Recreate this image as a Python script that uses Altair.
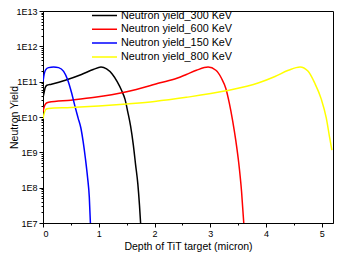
import altair as alt
import pandas as pd

# ---- data ----
series_names = ["Neutron yield_300 KeV", "Neutron yield_600 KeV",
                "Neutron yield_150 KeV", "Neutron yield_800 KeV"]
series_colors = ["#000000", "#FF0000", "#0000FF", "#FFFF00"]

x_300 = [0, 0.02, 0.04, 0.07, 0.15, 0.4, 0.69, 0.9, 1.04, 1.14, 1.24, 1.33, 1.41,
         1.47, 1.52, 1.57, 1.62, 1.66, 1.7, 1.73, 1.75]
y_300 = [3.5e10, 5.0e10, 6.8e10, 7.9e10, 8.5e10, 1.1e11, 1.6e11, 2.2e11, 2.6e11,
         2.3e11, 1.65e11, 1.0e11, 5.6e10, 3.2e10, 1.4e10, 5.6e9, 1.6e9, 4.5e8,
         1.3e8, 3.2e7, 1.0e7]

x_600 = [0, 0.02, 0.05, 0.1, 0.5, 0.93, 1.5, 2.1, 2.4, 2.57, 2.75, 2.96, 3.1, 3.2,
         3.28, 3.34, 3.4, 3.46, 3.51, 3.56, 3.6]
y_600 = [1.4e10, 1.9e10, 2.4e10, 2.6e10, 3.0e10, 3.6e10, 5.2e10, 9.3e10, 1.25e11,
         1.6e11, 2.1e11, 2.6e11, 2.1e11, 1.25e11, 6.3e10, 2.5e10, 7.9e9, 2.0e9,
         5.0e8, 7.9e7, 1.0e7]

x_150 = [0, 0.02, 0.05, 0.1, 0.19, 0.28, 0.37, 0.44, 0.51, 0.57, 0.63, 0.68, 0.72,
         0.76, 0.8, 0.83, 0.85]
y_150 = [1.0e11, 1.6e11, 2.2e11, 2.5e11, 2.6e11, 2.5e11, 1.95e11, 1.15e11, 5.0e10,
         2.1e10, 9.3e9, 4.8e9, 2.0e9, 6.8e8, 1.9e8, 5.5e7, 1.0e7]

x_800 = [0, 0.02, 0.05, 0.1, 0.5, 1.0, 1.5, 2.0, 2.57, 3.28, 3.87, 4.16, 4.4, 4.61,
         4.75, 4.87, 4.99, 5.08, 5.14, 5.18]
y_800 = [8.9e9, 1.25e10, 1.65e10, 1.75e10, 1.85e10, 2.05e10, 2.35e10, 2.75e10,
         3.6e10, 5.5e10, 9.3e10, 1.4e11, 2.1e11, 2.6e11, 2.0e11, 9.3e10, 3.2e10,
         9.3e9, 2.6e9, 1.15e9]

x_ticks = [0, 0.5, 1, 1.5, 2, 2.5, 3, 3.5, 4, 4.5, 5]
y_decades = [1e7, 1e8, 1e9, 1e10, 1e11, 1e12, 1e13]
y_ticks = sorted(set([m * d for d in y_decades[:-1] for m in range(1, 10)] + y_decades))

rows = []
for name, xs, ys in zip(series_names, [x_300, x_600, x_150, x_800],
                        [y_300, y_600, y_150, y_800]):
    for i, (xv, yv) in enumerate(zip(xs, ys)):
        rows.append({"series": name, "depth": xv, "yield": yv, "idx": i})
df = pd.DataFrame(rows)

is_decade = "abs(log(datum.value)/LN10 - round(log(datum.value)/LN10)) < 0.01"

chart = alt.Chart(df).mark_line(strokeWidth=1.5, clip=True, interpolate="monotone").encode(
    x=alt.X("depth:Q",
            scale=alt.Scale(domain=[0, 5.2], nice=False, zero=False),
            axis=alt.Axis(title="Depth of TiT target (micron)", values=x_ticks,
                          labelExpr="datum.value % 1 == 0 ? format(datum.value, 'd') : ''",
                          tickSize={"condition": {"test": "datum.value % 1 == 0", "value": 4}, "value": 2},
                          labelOverlap=False, grid=False)),
    y=alt.Y("yield:Q",
            scale=alt.Scale(type="log", domain=[1e7, 1e13], nice=False),
            axis=alt.Axis(title="Neutron Yield", values=y_ticks,
                          labelExpr=is_decade + " ? '1E' + round(log(datum.value)/LN10) : ''",
                          tickSize={"condition": {"test": is_decade, "value": 4}, "value": 2},
                          labelOverlap=False, grid=False, titleX=-24)),
    color=alt.Color("series:N",
                    scale=alt.Scale(domain=series_names, range=series_colors),
                    legend=alt.Legend(title=None, orient="none", legendX=48, legendY=-1,
                                      symbolType="stroke", symbolSize=625,
                                      symbolStrokeWidth=1.5, labelFontSize=10.8,
                                      labelFont="Liberation Sans", labelColor="#000000",
                                      clipHeight=11, rowPadding=1.8, labelOffset=3)),
    order="idx:Q",
).properties(
    width=290, height=212,
    autosize=alt.AutoSizeParams(type="none"),
    padding={"left": 35, "top": 3, "right": 1, "bottom": 32},
).configure_view(
    stroke="#000000", strokeWidth=1
).configure_axis(
    domainColor="#000000", tickColor="#000000", labelColor="#000000",
    titleColor="#000000", labelFont="Liberation Sans", titleFont="Liberation Sans",
    labelFontSize=9, titleFontSize=10.5, titleFontWeight="normal",
    labelPadding=2, titlePadding=3,
)

chart.save("out.html", embed_options={"renderer": "svg", "actions": False})
